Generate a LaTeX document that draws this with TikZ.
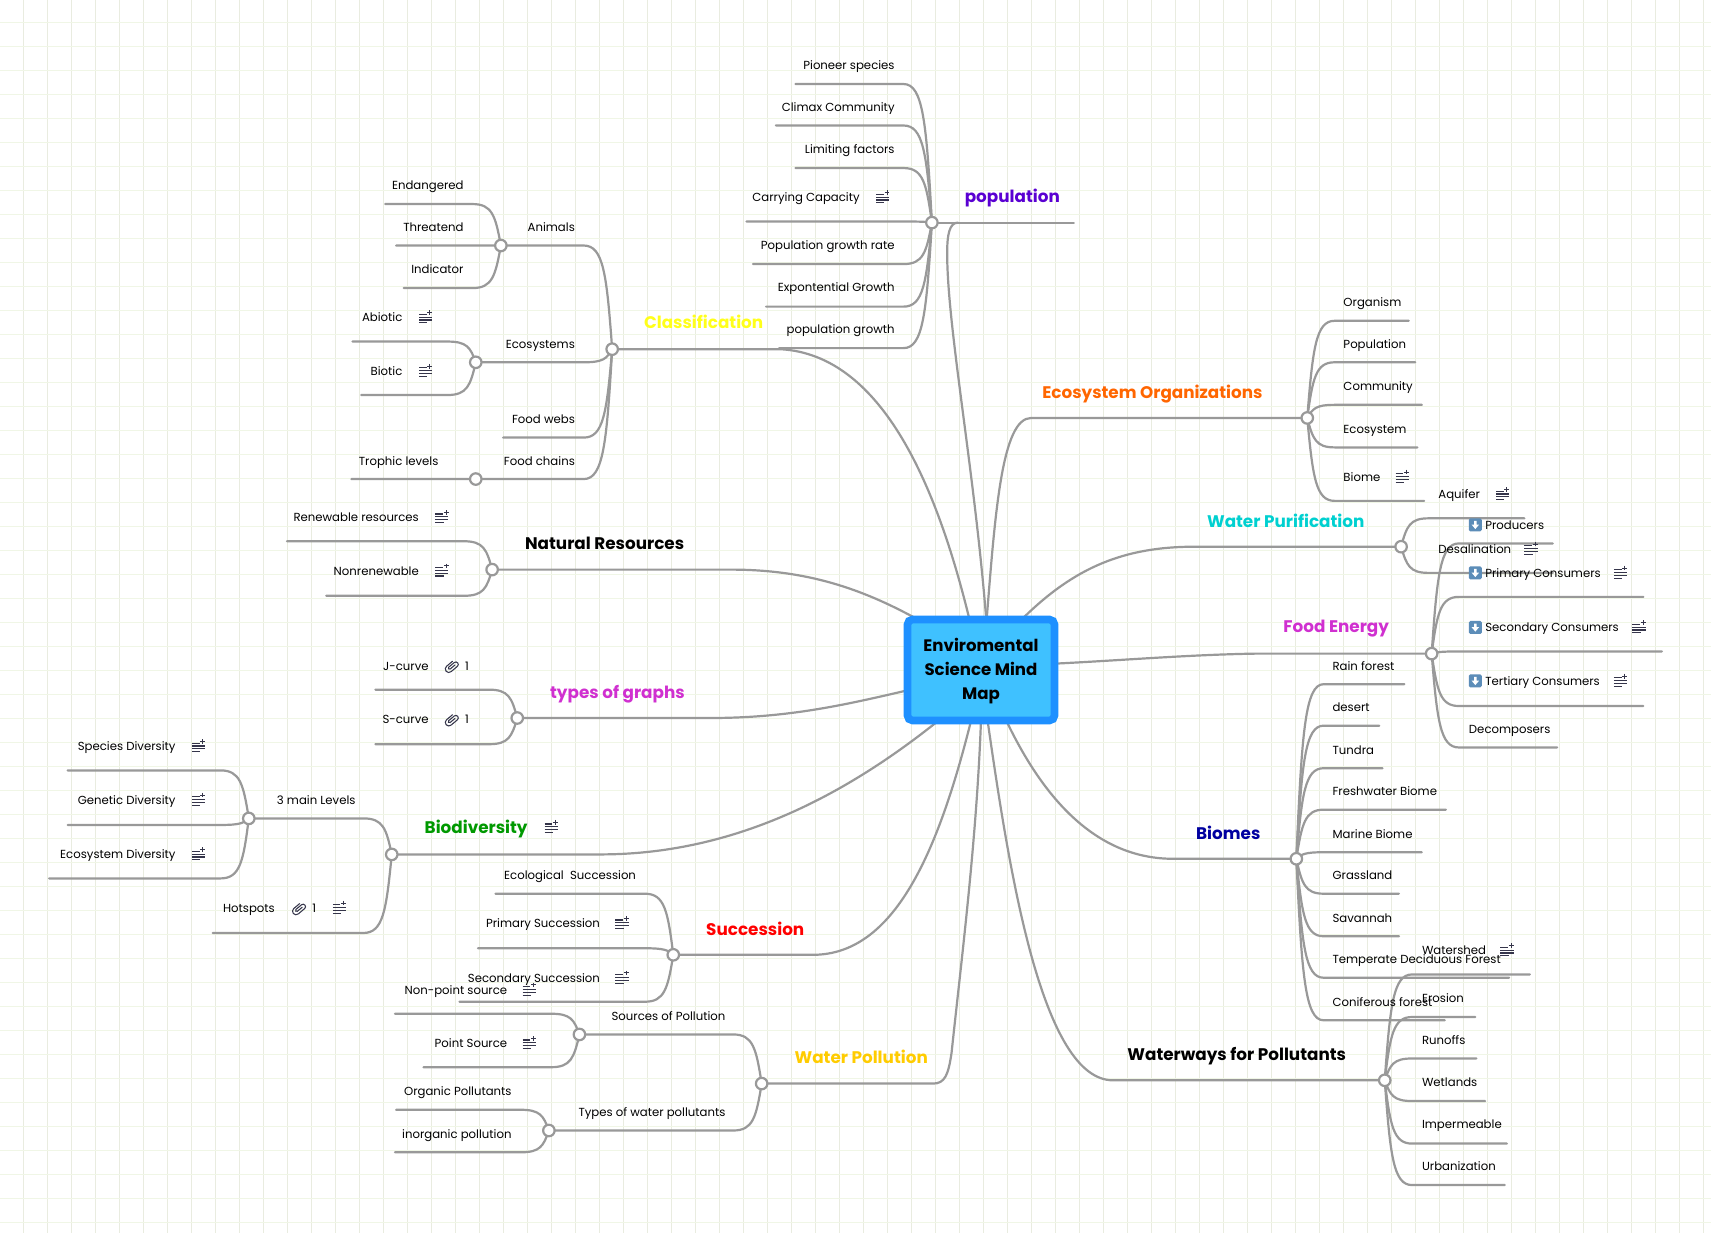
\documentclass[tikz,border=0pt]{standalone}
\usepackage{fontspec}
\setmainfont{Poppins}
\usetikzlibrary{calc,backgrounds}
\definecolor{gridv}{HTML}{E9ECE0}
\definecolor{gridh}{HTML}{F0F6E6}
\definecolor{linegray}{HTML}{999999}
\definecolor{icondark}{HTML}{35354A}
\definecolor{rootfill}{HTML}{3FC1FF}
\definecolor{rootline}{HTML}{1E90FF}
\definecolor{dlicon}{HTML}{5C8DB8}
\definecolor{cpop}{HTML}{5A00D2}
\definecolor{cclass}{HTML}{FFFF1A}
\definecolor{ceco}{HTML}{FF6600}
\definecolor{cwater}{HTML}{00D0D0}
\definecolor{cfood}{HTML}{D030D0}
\definecolor{cbiome}{HTML}{0000A0}
\definecolor{cbio}{HTML}{009900}
\definecolor{csucc}{HTML}{FF0000}
\definecolor{cpoll}{HTML}{FFCC00}
\newcommand{\bodyfont}{\fontsize{11.7}{14}\selectfont}
\newcommand{\topicfont}{\fontsize{16.8}{20}\selectfont\bfseries}
\tikzset{
  x=1.0912pt,y=-1.0912pt,
  conn/.style={draw=linegray,line width=2.2pt,line cap=round},
  jun/.style={circle,draw=linegray,fill=white,line width=2.2pt,minimum size=11.5pt,inner sep=0pt},
  lbl/.style={inner sep=0pt,text=black,font=\bodyfont},
  topic/.style={inner sep=0pt,font=\topicfont,anchor=base west},
  rootbox/.style={rectangle,rounded corners=5pt,draw=rootline,fill=rootfill,line width=7.6pt,minimum width=147pt,minimum height=101pt,inner sep=0pt,align=center,font=\fontsize{16.6}{24}\selectfont\bfseries},
}
\newcommand{\junc}[3]{\node[jun] (#1) at (#2,#3) {};}
\newcommand{\lleaf}[7]{%
  \coordinate (#1-b) at (#6,#7);
  \coordinate (#1-a) at ($(#2.center|-#1-b)+(-26,0)$);
  \node[lbl,anchor=base east] (#1) at (#3,#4+4) {#5};
  \begin{scope}[on background layer]
  \draw[conn] (#2.center) .. controls ($(#2.center)!.72!(#2.center|-#1-b)+(-5,0)$) and ($(#2.center|-#1-b)+(-8,0)$) .. (#1-a) -- (#1-b);
  \end{scope}}
\newcommand{\rleaf}[7]{%
  \coordinate (#1-b) at (#6,#7);
  \coordinate (#1-a) at ($(#2.center|-#1-b)+(25,0)$);
  \node[lbl,anchor=base west] (#1) at (#3,#4+4) {#5};
  \begin{scope}[on background layer]
  \draw[conn] (#2.center) .. controls ($(#2.center)!.72!(#2.center|-#1-b)+(5,0)$) and ($(#2.center|-#1-b)+(8,0)$) .. (#1-a) -- (#1-b);
  \end{scope}}
\newcommand{\lsub}[2]{%
  \coordinate (#1-#2-a) at ($(#1.center|-#2.center)+(-26,0)$);
  \begin{scope}[on background layer]
  \draw[conn] (#1.center) .. controls ($(#1.center)!.72!(#1.center|-#2.center)+(-5,0)$) and ($(#1.center|-#2.center)+(-8,0)$) .. (#1-#2-a) -- (#2.center);
  \end{scope}}
% id, start (x,y on root), c1, c2, curve end, far end
\newcommand{\tconn}[6]{%
  \coordinate (#1-s) at (#2);
  \coordinate (#1-e) at (#5);
  \begin{scope}[on background layer]
  \draw[conn] (#1-s) .. controls (#3) and (#4) .. (#1-e) -- (#6);
  \end{scope}}
\newcommand{\noteic}[2]{%
  \begin{scope}[shift={(#1,#2)}]
  \draw[icondark,line width=1.15pt] (-6,-2.9) -- (1,-2.9) (-6,-.3) -- (6,-.3) (-6,2.3) -- (6,2.3) (-6,4.9) -- (1.5,4.9);
  \draw[icondark,line width=.9pt] (3.9,-6.6) -- (3.9,-2.2) (1.7,-4.4) -- (6.1,-4.4);
  \end{scope}}
\newcommand{\clipic}[2]{%
  \begin{scope}[shift={(#1,#2)},rotate=-50,x=1.3pt,y=1.3pt]
  \draw[icondark,line width=1.05pt,line cap=round] (-2.2,2.5) -- (-2.2,-3.4) arc[start angle=180,end angle=360,radius=2.7] -- (3.2,3) arc[start angle=0,end angle=180,radius=1.9] -- (-.6,-2.6) arc[start angle=180,end angle=360,radius=.9] -- (1.2,2.2);
  \end{scope}}
\newcommand{\downic}[2]{%
  \begin{scope}[shift={(#1,#2)}]
  \fill[dlicon,rounded corners=1.6pt] (-6,-6) rectangle (6,6);
  \fill[white] (-1.2,-3.6) -- (1.2,-3.6) -- (1.2,-.2) -- (3.4,-.2) -- (0,3.8) -- (-3.4,-.2) -- (-1.2,-.2) -- cycle;
  \end{scope}}
\begin{document}
\begin{tikzpicture}
\useasboundingbox (0,0) rectangle (1568,1129.95);
\begin{scope}[on background layer]
  \fill[white] (0,0) rectangle (1568,1129.95);
  \foreach \k in {0,...,70} {\draw[gridv,line width=.75pt] (21.53+\k*21.994,0) -- (21.53+\k*21.994,1129.95);}
  \foreach \k in {0,...,51} {\draw[gridh,line width=.75pt] (0,20.6+\k*21.994) -- (1568,20.6+\k*21.994);}
\end{scope}

\node[rootbox] (root) at (899,614) {\rule{0pt}{14.5pt}Enviromental\\Science Mind\\Map};

% population
\junc{jpop}{854}{204}
\node[topic,text=cpop] (tpop) at (884,186) {population};
\coordinate (cpop-s) at (904,570);
\coordinate (cpop-m) at (868,232);
\coordinate (cpop-e) at (878,204);
\begin{scope}[on background layer]
  \draw[conn] (cpop-s) .. controls (893,430) and (868,300) .. (cpop-m) .. controls (868,215) and (870,204) .. (cpop-e);
  \draw[conn] (jpop.center) -- (984,204);
\end{scope}
\lleaf{pop1}{jpop}{820}{60}{Pioneer species}{729}{77}
\lleaf{pop2}{jpop}{820}{98}{Climax Community}{711}{115}
\lleaf{pop3}{jpop}{820}{137}{Limiting factors}{729}{154}
\lleaf{pop4}{jpop}{788}{181}{Carrying Capacity}{684}{203}
\lleaf{pop5}{jpop}{820}{225}{Population growth rate}{690}{242}
\lleaf{pop6}{jpop}{820}{263}{Expontential Growth}{702}{281}
\lleaf{pop7}{jpop}{820}{302}{population growth}{714}{319}
\noteic{809}{181}

% Classification
\junc{jcl}{561}{320}
\node[topic,text=cclass] (tcl) at (590,301) {Classification};
\tconn{ccl}{889,570}{860,450}{810,325}{715,320}{jcl.center}
\junc{jan}{459}{225}
\junc{jes}{436}{332}
\junc{jfc}{436}{439}
\lsub{jcl}{jan}
\lsub{jcl}{jes}
\lsub{jcl}{jfc}
\node[lbl,anchor=base east] (nan) at (527,212) {Animals};
\node[lbl,anchor=base east] (nes) at (527,319) {Ecosystems};
\node[lbl,anchor=base east] (nfc) at (527,427) {Food chains};
\lleaf{fw}{jcl}{527}{384}{Food webs}{461}{401}
\lleaf{an1}{jan}{425}{170}{Endangered}{353}{187}
\lleaf{an2}{jan}{425}{208}{Threatend}{363}{225}
\lleaf{an3}{jan}{425}{247}{Indicator}{370}{264}
\lleaf{es1}{jes}{369}{291}{Abiotic}{323}{313}
\lleaf{es2}{jes}{369}{340}{Biotic}{331}{362}
\noteic{390}{291}
\noteic{390}{340}
\lleaf{fc1}{jfc}{402}{423}{Trophic levels}{322}{439}

% Ecosystem Organizations
\junc{jeo}{1198}{383}
\node[topic,text=ceco] (teo) at (955,365) {Ecosystem Organizations};
\tconn{ceo}{904,570}{912,470}{918,383}{945,383}{jeo.center}
\rleaf{eo1}{jeo}{1231}{277}{Organism}{1291}{294}
\rleaf{eo2}{jeo}{1231}{315}{Population}{1297}{332}
\rleaf{eo3}{jeo}{1231}{354}{Community}{1303}{371}
\rleaf{eo4}{jeo}{1231}{393}{Ecosystem}{1299}{410}
\rleaf{eo5}{jeo}{1231}{437}{Biome}{1305}{459}
\noteic{1285}{437}

% Water Purification
\junc{jwp}{1284}{501}
\node[topic,text=cwater] (twp) at (1106,483) {Water Purification};
\tconn{cwp}{938,566}{985,520}{1030,501}{1095,501}{jwp.center}
\rleaf{wp1}{jwp}{1318}{453}{Aquifer}{1397}{475}
\rleaf{wp2}{jwp}{1318}{503}{Desalination}{1423}{525}
\noteic{1377}{453}
\noteic{1403}{503}

% Food Energy
\junc{jfe}{1312}{599}
\node[topic,text=cfood] (tfe) at (1176,580) {Food Energy};
\tconn{cfe}{970,608}{1030,605}{1090,600}{1150,599}{jfe.center}
\rleaf{fe1}{jfe}{1361}{481}{Producers}{1423}{498}
\rleaf{fe2}{jfe}{1361}{525}{Primary Consumers}{1506}{547}
\rleaf{fe3}{jfe}{1361}{575}{Secondary Consumers}{1523}{597}
\rleaf{fe4}{jfe}{1361}{624}{Tertiary Consumers}{1506}{647}
\rleaf{fe5}{jfe}{1346}{668}{Decomposers}{1427}{685}
\downic{1352}{481}
\downic{1352}{525}
\downic{1352}{575}
\downic{1352}{624}
\noteic{1485}{525}
\noteic{1502}{575}
\noteic{1485}{624}

% Biomes
\junc{jbm}{1188}{787}
\node[topic,text=cbiome] (tbm) at (1096,769) {Biomes};
\tconn{cbm}{922,660}{960,740}{1010,787}{1075,787}{jbm.center}
\rleaf{bm1}{jbm}{1221}{610}{Rain forest}{1287}{627}
\rleaf{bm2}{jbm}{1221}{648}{desert}{1264}{665}
\rleaf{bm3}{jbm}{1221}{687}{Tundra}{1267}{704}
\rleaf{bm4}{jbm}{1221}{725}{Freshwater Biome}{1325}{742}
\rleaf{bm5}{jbm}{1221}{764}{Marine Biome}{1303}{781}
\rleaf{bm6}{jbm}{1221}{802}{Grassland}{1282}{819}
\rleaf{bm7}{jbm}{1221}{841}{Savannah}{1282}{858}
\rleaf{bm8}{jbm}{1221}{879}{Temperate Deciduous Forest}{1383}{896}
\rleaf{bm9}{jbm}{1221}{918}{Coniferous forest}{1324}{935}

% Waterways
\junc{jww}{1269}{990}
\node[topic,text=black] (tww) at (1033,972) {Waterways for Pollutants};
\tconn{cww}{905,660}{925,800}{955,990}{1020,990}{jww.center}
\rleaf{ww1}{jww}{1303}{871}{Watershed}{1402}{893}
\rleaf{ww2}{jww}{1303}{915}{Erosion}{1352}{932}
\rleaf{ww3}{jww}{1303}{953}{Runoffs}{1353}{970}
\rleaf{ww4}{jww}{1303}{992}{Wetlands}{1361}{1009}
\rleaf{ww5}{jww}{1303}{1030}{Impermeable}{1381}{1048}
\rleaf{ww6}{jww}{1303}{1069}{Urbanization}{1379}{1086}
\noteic{1381}{871}

% Natural Resources
\junc{jnr}{451}{522}
\node[topic,text=black] (tnr) at (481,504) {Natural Resources};
\tconn{cnr}{838,566}{790,540}{740,522}{670,522}{jnr.center}
\lleaf{nr1}{jnr}{384}{474}{Renewable resources}{263}{496}
\lleaf{nr2}{jnr}{384}{523}{Nonrenewable}{299}{546}
\noteic{405}{474}
\noteic{405}{523}

% types of graphs
\junc{jtg}{474}{658}
\node[topic,text=cfood] (ttg) at (504,640) {types of graphs};
\tconn{ctg}{830,633}{770,647}{720,658}{650,658}{jtg.center}
\lleaf{tg1}{jtg}{393}{610}{J-curve}{344}{632}
\lleaf{tg2}{jtg}{393}{659}{S-curve}{344}{682}
\clipic{414}{610}
\clipic{414}{659}
\node[lbl,anchor=base] (tg1n) at (428,614) {1};
\node[lbl,anchor=base] (tg2n) at (428,663) {1};

% Biodiversity
\junc{jbd}{359}{783}
\node[topic,text=cbio] (tbd) at (389,764) {Biodiversity};
\noteic{505}{758}
\tconn{cbd}{858,662}{760,740}{660,783}{550,783}{jbd.center}
\junc{j3m}{228}{750}
\lsub{jbd}{j3m}
\node[lbl,anchor=base east] (n3m) at (326,737) {3 main Levels};
\lleaf{hs}{jbd}{252}{832}{Hotspots}{195}{855}
\clipic{274}{832}
\node[lbl,anchor=base] (hsn) at (288,836) {1};
\noteic{311}{832}
\lleaf{d1}{j3m}{161}{684}{Species Diversity}{62}{706}
\lleaf{d2}{j3m}{161}{733}{Genetic Diversity}{62}{756}
\lleaf{d3}{j3m}{161}{783}{Ecosystem Diversity}{45}{805}
\noteic{182}{684}
\noteic{182}{733}
\noteic{182}{783}

% Succession
\junc{jsu}{617}{875}
\node[topic,text=csucc] (tsu) at (647,857) {Succession};
\tconn{csu}{890,660}{860,780}{820,875}{745,875}{jsu.center}
\lleaf{su1}{jsu}{583}{802}{Ecological\ \ Succession}{454}{819}
\lleaf{su2}{jsu}{550}{846}{Primary Succession}{438}{869}
\lleaf{su3}{jsu}{550}{896}{Secondary Succession}{421}{918}
\noteic{570}{846}
\noteic{570}{896}

% Water Pollution
\junc{jpl}{698}{993}
\node[topic,text=cpoll] (tpl) at (728,975) {Water Pollution};
\coordinate (cpl-s) at (899,660);
\coordinate (cpl-m) at (872,965);
\coordinate (cpl-e) at (855,993);
\begin{scope}[on background layer]
  \draw[conn] (cpl-s) .. controls (895,770) and (881,880) .. (cpl-m) .. controls (869,985) and (866,993) .. (cpl-e) -- (jpl.center);
\end{scope}
\junc{jso}{531}{948}
\junc{jty}{503}{1036}
\lsub{jpl}{jso}
\lsub{jpl}{jty}
\node[lbl,anchor=base east] (nso) at (665,935) {Sources of Pollution};
\node[lbl,anchor=base east] (nty) at (665,1023) {Types of water pollutants};
\lleaf{so1}{jso}{465}{907}{Non-point source}{362}{929}
\lleaf{so2}{jso}{465}{956}{Point Source}{388}{978}
\noteic{485}{907}
\noteic{485}{956}
\lleaf{ty1}{jty}{469}{1000}{Organic Pollutants}{363}{1017}
\lleaf{ty2}{jty}{469}{1039}{inorganic pollution}{362}{1056}
\end{tikzpicture}
\end{document}
